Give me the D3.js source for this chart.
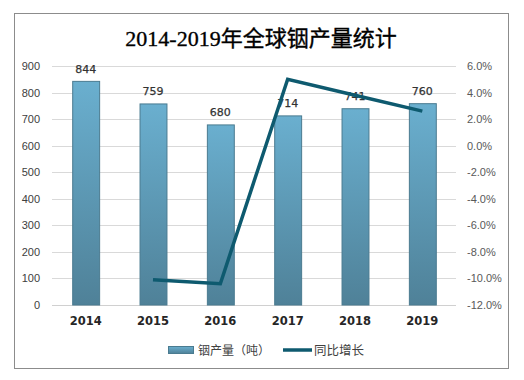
<!DOCTYPE html>
<html><head><meta charset="utf-8">
<script src="https://cdn.jsdelivr.net/npm/d3@7"></script>
<style>body{margin:0;background:#fff;}svg{display:block;}</style>
</head><body>
<script>
const years = ["2014","2015","2016","2017","2018","2019"];
const output = [844, 759, 680, 714, 741, 760];
const growth = [null, -10.1, -10.4, 5.0, 3.8, 2.6];
const leftTicks = [0,100,200,300,400,500,600,700,800,900];
const rightTicks = [-12,-10,-8,-6,-4,-2,0,2,4,6];
const title = "2014-2019年全球铟产量统计";
const legendNames = ["铟产量（吨）", "同比增长"];

const W = 524, H = 380;
const svg = d3.select("body").append("svg").attr("width", W).attr("height", H);
const defs = svg.append("defs");
const g = defs.append("linearGradient").attr("id","barGrad").attr("x1",0).attr("y1",0).attr("x2",0).attr("y2",1);
g.append("stop").attr("offset","0%").attr("stop-color","#6aafcf");
g.append("stop").attr("offset","100%").attr("stop-color","#4f8198");
const lg = defs.append("linearGradient").attr("id","legGrad").attr("x1",0).attr("y1",0).attr("x2",0).attr("y2",1);
lg.append("stop").attr("offset","0%").attr("stop-color","#6aafcf");
lg.append("stop").attr("offset","100%").attr("stop-color","#4f8198");

svg.append("rect").attr("x",14.5).attr("y",13.5).attr("width",494).attr("height",355)
  .attr("fill","#fff").attr("stroke","#8c8c8c").attr("stroke-width",1);

svg.append("text").attr("x",261).attr("y",46).attr("text-anchor","middle")
  .attr("font-family","'Liberation Serif','Noto Sans CJK SC',serif").attr("font-size",22)
  .attr("fill","#000").attr("stroke","#000").attr("stroke-width",0.35).text(title);

const x = d3.scaleBand().domain(years).range([52,456]).paddingInner(0.6).paddingOuter(0.3);
const yL = d3.scaleLinear().domain([0,900]).range([305,66]);
const yR = d3.scaleLinear().domain([-12,6]).range([305,66]);

// gridlines
svg.append("g").selectAll("line").data(leftTicks).join("line")
  .attr("x1",52).attr("x2",456).attr("y1",d=>Math.round(yL(d))+0.5).attr("y2",d=>Math.round(yL(d))+0.5)
  .attr("stroke",d=>d===0?"#d0d0d0":"#d9d9d9").attr("stroke-width",1);

// left axis
const axL = svg.append("g").attr("transform","translate(52,0)")
  .call(d3.axisLeft(yL).tickValues(leftTicks).tickSize(0).tickPadding(12));
axL.select(".domain").remove();
axL.selectAll("text").attr("font-family","'Liberation Sans',Arial,sans-serif").attr("font-size",11).attr("fill","#404040");

// right axis
const axR = svg.append("g").attr("transform","translate(456,0)")
  .call(d3.axisRight(yR).tickValues(rightTicks).tickSize(0).tickPadding(11).tickFormat(d=>d.toFixed(1)+"%"));
axR.select(".domain").remove();
axR.selectAll("text").attr("font-family","'Liberation Sans',Arial,sans-serif").attr("font-size",11).attr("fill","#595959");

// x axis
const axX = svg.append("g").attr("transform","translate(0,305)")
  .call(d3.axisBottom(x).tickSize(0).tickPadding(12));
axX.select(".domain").remove();
axX.selectAll("text").attr("font-family","'DejaVu Sans',sans-serif").attr("font-weight","bold").attr("font-size",11.5).attr("fill","#262626");

// bars
svg.append("g").selectAll("rect").data(output).join("rect")
  .attr("x",(d,i)=>x(years[i])+0.5).attr("y",d=>yL(d)+0.5)
  .attr("width",x.bandwidth()).attr("height",d=>yL(0)-yL(d)-0.5)
  .attr("fill","url(#barGrad)").attr("stroke","#4a7b90").attr("stroke-width",1);

// labels
svg.append("g").selectAll("text").data(output).join("text")
  .attr("x",(d,i)=>x(years[i])+x.bandwidth()/2).attr("y",d=>yL(d)-8)
  .attr("text-anchor","middle").attr("font-family","'DejaVu Sans',sans-serif").attr("font-size",11)
  .attr("fill","#333").attr("stroke","#333").attr("stroke-width",0.25).text(d=>d);

// line
const pts = growth.map((v,i)=>({v,yr:years[i]})).filter(d=>d.v!==null);
svg.append("path").datum(pts)
  .attr("d", d3.line().x(d=>x(d.yr)+x.bandwidth()/2).y(d=>yR(d.v)))
  .attr("fill","none").attr("stroke","#0e5a6f").attr("stroke-width",3.5).attr("stroke-linejoin","miter");

// legend
const leg = svg.append("g");
leg.append("rect").attr("x",168.5).attr("y",346.5).attr("width",25).attr("height",7)
  .attr("fill","url(#legGrad)").attr("stroke","#4a7b90");
leg.append("text").attr("x",198).attr("y",355).attr("font-family","'Noto Sans CJK SC',sans-serif")
  .attr("font-size",12).attr("fill","#404040").text(legendNames[0]);
leg.append("line").attr("x1",283).attr("x2",312).attr("y1",350).attr("y2",350)
  .attr("stroke","#0e5a6f").attr("stroke-width",3.5);
leg.append("text").attr("x",314).attr("y",355).attr("font-family","'Noto Sans CJK SC',sans-serif")
  .attr("font-size",12.5).attr("fill","#404040").text(legendNames[1]);
</script>
</body></html>
